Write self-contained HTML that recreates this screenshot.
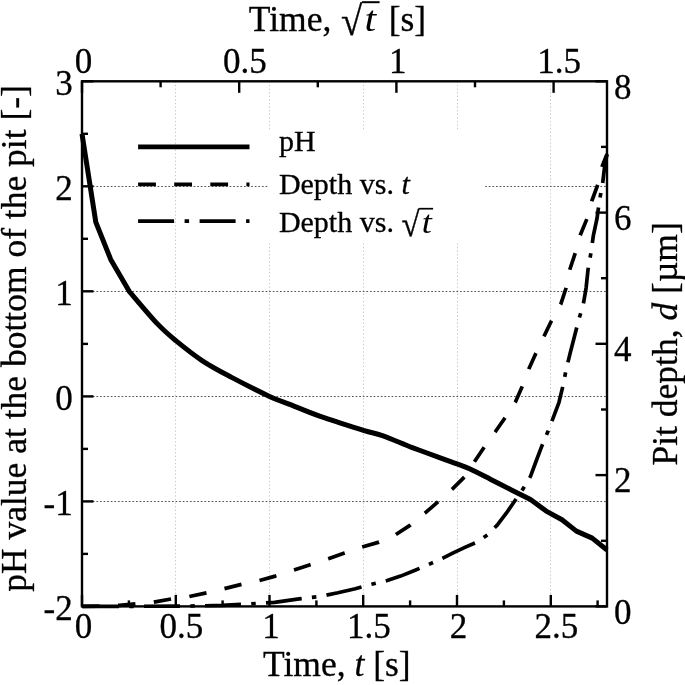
<!DOCTYPE html>
<html><head><meta charset="utf-8"><title>Pit pH and depth</title>
<style>
html,body{margin:0;padding:0;background:#fff;}
svg{display:block;}
text{font-family:"Liberation Serif","DejaVu Serif",serif;fill:#000;stroke:#000;stroke-width:0.3px;}
.tk{font-size:35px;}
.ax{font-size:35.5px;}
.lg{font-size:30px;}
.it{font-style:italic;}
</style></head><body>
<svg width="685" height="685" viewBox="0 0 685 685">
<rect width="685" height="685" fill="#fff"/>
<g fill="none" stroke-width="1">
<line x1="175.5" y1="81.3" x2="175.5" y2="606.4" stroke="#c6c6c6" stroke-dasharray="1.3 2.3"/>
<line x1="269.5" y1="81.3" x2="269.5" y2="606.4" stroke="#c6c6c6" stroke-dasharray="1.3 2.3"/>
<line x1="363.5" y1="81.3" x2="363.5" y2="606.4" stroke="#c6c6c6" stroke-dasharray="1.3 2.3"/>
<line x1="457.5" y1="81.3" x2="457.5" y2="606.4" stroke="#c6c6c6" stroke-dasharray="1.3 2.3"/>
<line x1="550.5" y1="81.3" x2="550.5" y2="606.4" stroke="#c6c6c6" stroke-dasharray="1.3 2.3"/>
<line x1="82.0" y1="186.5" x2="607.0" y2="186.5" stroke="#555" stroke-dasharray="1.7 1.9"/>
<line x1="82.0" y1="291.5" x2="607.0" y2="291.5" stroke="#555" stroke-dasharray="1.7 1.9"/>
<line x1="82.0" y1="396.5" x2="607.0" y2="396.5" stroke="#555" stroke-dasharray="1.7 1.9"/>
<line x1="82.0" y1="501.5" x2="607.0" y2="501.5" stroke="#555" stroke-dasharray="1.7 1.9"/>
</g>
<rect x="268.5" y="129.5" width="216" height="113.5" fill="#fff"/>
<path d="M82.0,133.8 L95.8,222.1 L110.7,259.4 L129.2,291.3 C133.9,296.7 149.2,315.1 157.0,323.4 C164.8,331.6 168.6,334.7 176.1,340.9 C183.7,347.1 193.1,354.7 202.4,360.8 C211.6,366.8 220.4,371.4 231.6,377.4 C242.8,383.3 259.9,391.9 269.5,396.4 C279.1,400.8 280.4,400.7 289.0,404.1 C297.6,407.5 308.7,412.4 321.1,416.7 C333.5,421.1 353.2,427.2 363.4,430.4 C373.7,433.5 374.3,432.8 382.4,435.6 C390.4,438.5 401.9,443.5 411.6,447.3 C421.4,451.0 433.3,455.3 440.9,458.1 C448.4,460.9 452.1,462.1 457.0,463.9 C461.9,465.7 464.5,466.4 470.1,469.0 C475.8,471.6 483.9,475.9 490.8,479.4 C497.6,482.9 504.8,486.6 511.4,489.9 L530.5,499.6 L546.2,511.1 L562.0,519.8 L576.4,531.1 L592.2,538.1 L607.0,550.0" fill="none" stroke="#000" stroke-width="5" stroke-linejoin="round"/>
<polyline points="82.0,606.4 100.8,606.2 119.5,605.4 152.7,602.4 171.8,598.9 189.2,596.6 206.7,592.8 224.3,588.7 241.8,584.3 259.4,580.5 275.3,576.1 293.3,570.3 309.4,565.0 328.4,558.7 344.5,552.9 361.9,547.1 379.0,542.1 395.7,534.7 410.3,525.1 424.9,513.2 437.9,501.8 452.5,488.9 465.1,476.4 474.2,462.0 484.8,446.2 495.3,431.8 504.4,418.7 515.3,402.3 522.2,386.4 528.8,368.9 535.8,353.4 544.0,336.2 551.5,320.7 560.7,304.3 566.1,288.0 569.7,269.8 575.5,252.4 580.2,235.3 587.1,218.5 591.8,201.0 598.2,183.5 602.3,166.0 607.0,154.2" fill="none" stroke="#000" stroke-width="3.7" stroke-dasharray="17.5 18.5" stroke-linejoin="round"/>
<polyline points="82.0,606.4 181.2,606.2 222.3,605.4 274.6,602.4 299.1,598.9 319.3,596.6 337.9,592.8 355.3,588.7 371.6,584.3 387.2,580.5 400.6,576.1 415.1,570.3 427.5,565.0 441.6,558.7 453.2,552.9 465.4,547.1 476.9,542.1 487.8,534.7 497.2,525.1 506.3,513.2 514.2,501.8 523.0,488.9 530.5,476.4 535.8,462.0 541.8,446.2 547.8,431.8 552.9,418.7 559.0,402.3 562.8,386.4 566.3,368.9 570.1,353.4 574.5,336.2 578.5,320.7 583.3,304.3 586.1,288.0 588.0,269.8 591.0,252.4 593.4,235.3 597.0,218.5 599.4,201.0 602.6,183.5 604.7,166.0 607.0,154.2" fill="none" stroke="#000" stroke-width="3.7" stroke-dasharray="36 10.26 4.5 10.26" stroke-dashoffset="-1" stroke-linejoin="round"/>
<g stroke="#000" stroke-width="2.4" fill="none">
<rect x="82.0" y="81.3" width="525.0" height="525.1"/>
<line x1="82.0" y1="606.4" x2="82.0" y2="594.9"/>
<line x1="128.9" y1="606.4" x2="128.9" y2="600.4"/>
<line x1="175.8" y1="606.4" x2="175.8" y2="594.9"/>
<line x1="222.6" y1="606.4" x2="222.6" y2="600.4"/>
<line x1="269.5" y1="606.4" x2="269.5" y2="594.9"/>
<line x1="316.4" y1="606.4" x2="316.4" y2="600.4"/>
<line x1="363.2" y1="606.4" x2="363.2" y2="594.9"/>
<line x1="410.1" y1="606.4" x2="410.1" y2="600.4"/>
<line x1="457.0" y1="606.4" x2="457.0" y2="594.9"/>
<line x1="503.9" y1="606.4" x2="503.9" y2="600.4"/>
<line x1="550.8" y1="606.4" x2="550.8" y2="594.9"/>
<line x1="597.6" y1="606.4" x2="597.6" y2="600.4"/>
<line x1="82.0" y1="81.3" x2="82.0" y2="92.8"/>
<line x1="160.6" y1="81.3" x2="160.6" y2="87.3"/>
<line x1="239.2" y1="81.3" x2="239.2" y2="92.8"/>
<line x1="317.8" y1="81.3" x2="317.8" y2="87.3"/>
<line x1="396.4" y1="81.3" x2="396.4" y2="92.8"/>
<line x1="475.0" y1="81.3" x2="475.0" y2="87.3"/>
<line x1="553.6" y1="81.3" x2="553.6" y2="92.8"/>
<line x1="82.0" y1="606.4" x2="93.5" y2="606.4"/>
<line x1="82.0" y1="553.9" x2="88.0" y2="553.9"/>
<line x1="82.0" y1="501.4" x2="93.5" y2="501.4"/>
<line x1="82.0" y1="448.9" x2="88.0" y2="448.9"/>
<line x1="82.0" y1="396.4" x2="93.5" y2="396.4"/>
<line x1="82.0" y1="343.9" x2="88.0" y2="343.9"/>
<line x1="82.0" y1="291.3" x2="93.5" y2="291.3"/>
<line x1="82.0" y1="238.8" x2="88.0" y2="238.8"/>
<line x1="82.0" y1="186.3" x2="93.5" y2="186.3"/>
<line x1="82.0" y1="133.8" x2="88.0" y2="133.8"/>
<line x1="82.0" y1="81.3" x2="93.5" y2="81.3"/>
<line x1="607.0" y1="606.4" x2="595.5" y2="606.4"/>
<line x1="607.0" y1="540.8" x2="601.0" y2="540.8"/>
<line x1="607.0" y1="475.1" x2="595.5" y2="475.1"/>
<line x1="607.0" y1="409.5" x2="601.0" y2="409.5"/>
<line x1="607.0" y1="343.8" x2="595.5" y2="343.8"/>
<line x1="607.0" y1="278.2" x2="601.0" y2="278.2"/>
<line x1="607.0" y1="212.6" x2="595.5" y2="212.6"/>
<line x1="607.0" y1="146.9" x2="601.0" y2="146.9"/>
<line x1="607.0" y1="81.3" x2="595.5" y2="81.3"/>
</g>
<g stroke="#000" fill="none">
<line x1="138.1" y1="146.9" x2="249.5" y2="146.9" stroke-width="4.8"/>
<line x1="138.1" y1="184.3" x2="249.5" y2="184.3" stroke-width="3.7" stroke-dasharray="17.8 18.3"/>
<line x1="138.1" y1="221.2" x2="249.5" y2="221.2" stroke-width="3.7" stroke-dasharray="36 10.5 4.5 10.5"/>
</g>
<g class="tk">
<text x="74.7" y="638">0</text>
<text x="159.4" y="638">0.5</text>
<text x="262.2" y="638">1</text>
<text x="346.9" y="638">1.5</text>
<text x="449.7" y="638">2</text>
<text x="534.5" y="638">2.5</text>
<text x="74.7" y="73.3">0</text>
<text x="222.9" y="73.3">0.5</text>
<text x="389.1" y="73.3">1</text>
<text x="537.3" y="73.3">1.5</text>
</g>
<g class="tk" text-anchor="end">
<text x="72.7" y="620.0">-2</text>
<text x="72.7" y="515.0">-1</text>
<text x="72.7" y="410.0">0</text>
<text x="72.7" y="304.9">1</text>
<text x="72.7" y="199.9">2</text>
<text x="72.7" y="94.9">3</text>
</g>
<g class="tk" text-anchor="start">
<text x="614" y="623.7">0</text>
<text x="614" y="492.4">2</text>
<text x="614" y="361.1">4</text>
<text x="614" y="229.9">6</text>
<text x="614" y="98.6">8</text>
</g>
<text class="ax" x="248.8" y="31">Time,</text>
<text class="ax" transform="translate(341.1 35) scale(1.09 1.166)">√</text>
<text class="ax it" transform="translate(364.6 31) scale(1.18 1)" style="font-size:35.5px;stroke:none">t</text>
<text class="ax" x="388.7" y="31">[s]</text>
<line x1="362" y1="2.2" x2="379.6" y2="2.2" stroke="#000" stroke-width="2"/>
<text class="ax" x="263" y="676.2">Time, <tspan class="it">t</tspan> [s]</text>
<text class="ax" transform="translate(26 591.8) rotate(-90)">pH value at the bottom of the pit [-]</text>
<text class="ax" transform="translate(676.6 465.5) rotate(-90)">Pit depth, <tspan class="it">d</tspan> [µm]</text>
<g class="lg">
<text x="278.9" y="151.4">pH</text>
<text x="278.9" y="194">Depth vs. <tspan class="it">t</tspan></text>
<text x="278.9" y="232">Depth vs.</text>
<text transform="translate(401.4 235.8) scale(1.1 1.163)">√</text>
<text class="it" transform="translate(421.8 232.6) scale(1.15 1)" style="font-size:31.5px;stroke:none">t</text>
</g>
<line x1="419.2" y1="208.7" x2="433.1" y2="208.7" stroke="#000" stroke-width="1.7"/>
</svg>
</body></html>
